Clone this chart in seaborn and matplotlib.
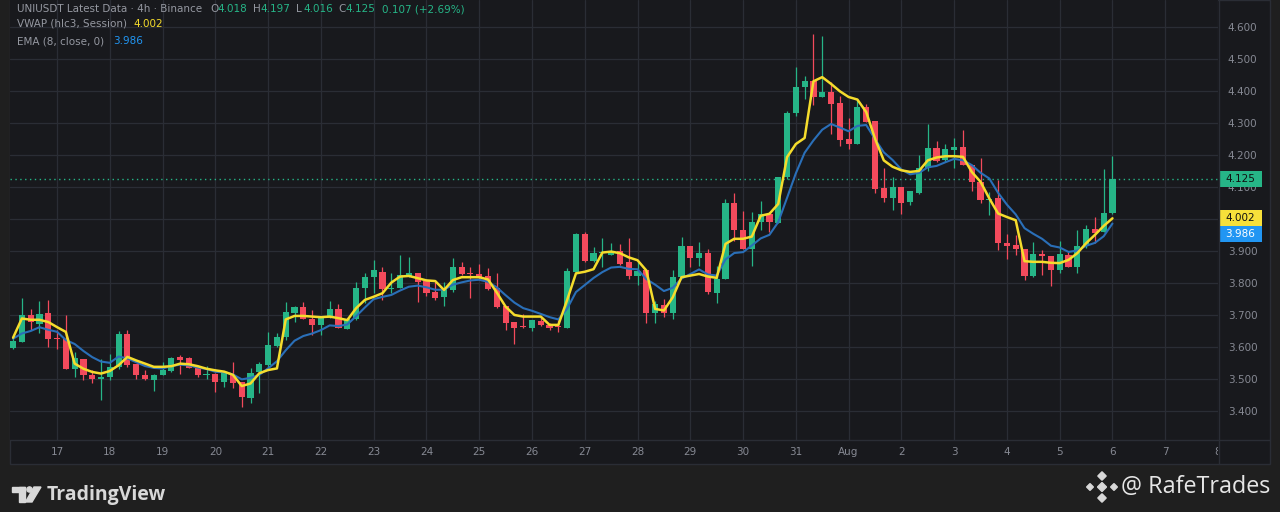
import numpy as np
import pandas as pd
import matplotlib
matplotlib.use('Agg')
import matplotlib.pyplot as plt
import matplotlib.patches as mpatches
from matplotlib.transforms import Bbox, TransformedBbox, blended_transform_factory
import seaborn as sns

# 4h candles (first candle = 16 Jul, 04:00)
opens = [3.598, 3.615, 3.699, 3.673, 3.705, 3.628, 3.626, 3.532, 3.563, 3.514,
         3.501, 3.506, 3.537, 3.639, 3.548, 3.514, 3.496, 3.511, 3.525, 3.569,
         3.566, 3.540, 3.514, 3.517, 3.492, 3.512, 3.492, 3.440, 3.521, 3.543,
         3.603, 3.630, 3.707, 3.724, 3.686, 3.669, 3.690, 3.719, 3.656, 3.688,
         3.783, 3.818, 3.835, 3.781, 3.785, 3.822, 3.830, 3.806, 3.771, 3.755,
         3.778, 3.849, 3.832, 3.827, 3.822, 3.785, 3.728, 3.679, 3.664, 3.658,
         3.682, 3.669, 3.665, 3.658, 3.835, 3.953, 3.870, 3.893, 3.888, 3.901,
         3.864, 3.822, 3.839, 3.705, 3.732, 3.705, 3.818, 3.917, 3.878, 3.893,
         3.768, 3.812, 4.049, 3.966, 3.906, 3.990, 4.016, 3.986, 4.130, 4.330,
         4.411, 4.432, 4.380, 4.396, 4.361, 4.250, 4.233, 4.350, 4.305, 4.098,
         4.064, 4.100, 4.052, 4.082, 4.160, 4.222, 4.183, 4.215, 4.225, 4.170,
         4.116, 4.060, 4.064, 3.926, 3.920, 3.907, 3.821, 3.890, 3.884, 3.841,
         3.888, 3.851, 3.914, 3.968, 3.960, 4.018]
highs = [3.630, 3.754, 3.720, 3.743, 3.746, 3.652, 3.700, 3.585, 3.563, 3.527,
         3.564, 3.577, 3.649, 3.654, 3.548, 3.527, 3.517, 3.553, 3.569, 3.574,
         3.569, 3.540, 3.540, 3.518, 3.518, 3.554, 3.492, 3.533, 3.554, 3.648,
         3.643, 3.739, 3.728, 3.742, 3.716, 3.695, 3.744, 3.733, 3.690, 3.802,
         3.830, 3.872, 3.851, 3.832, 3.887, 3.880, 3.830, 3.806, 3.802, 3.804,
         3.877, 3.867, 3.851, 3.858, 3.846, 3.832, 3.728, 3.679, 3.702, 3.684,
         3.695, 3.674, 3.684, 3.846, 3.955, 3.960, 3.911, 3.940, 3.924, 3.922,
         3.940, 3.867, 3.839, 3.743, 3.750, 3.841, 3.945, 3.917, 3.927, 3.906,
         3.854, 4.062, 4.080, 4.026, 4.021, 4.057, 4.021, 4.130, 4.336, 4.476,
         4.448, 4.578, 4.570, 4.427, 4.385, 4.314, 4.376, 4.358, 4.305, 4.160,
         4.131, 4.100, 4.086, 4.199, 4.298, 4.244, 4.235, 4.254, 4.277, 4.170,
         4.189, 4.084, 4.121, 3.952, 3.949, 3.907, 3.928, 3.903, 3.884, 3.932,
         3.898, 3.964, 3.981, 4.007, 4.155, 4.197]
lows = [3.595, 3.614, 3.654, 3.644, 3.600, 3.595, 3.532, 3.506, 3.496, 3.487,
        3.435, 3.496, 3.532, 3.537, 3.501, 3.496, 3.462, 3.511, 3.522, 3.515,
        3.535, 3.506, 3.499, 3.459, 3.476, 3.471, 3.414, 3.424, 3.455, 3.539,
        3.601, 3.622, 3.679, 3.686, 3.637, 3.637, 3.689, 3.658, 3.656, 3.685,
        3.736, 3.768, 3.747, 3.768, 3.783, 3.820, 3.740, 3.760, 3.747, 3.728,
        3.773, 3.825, 3.752, 3.809, 3.778, 3.721, 3.653, 3.609, 3.658, 3.650,
        3.666, 3.653, 3.648, 3.658, 3.835, 3.864, 3.864, 3.851, 3.888, 3.856,
        3.811, 3.794, 3.674, 3.674, 3.695, 3.688, 3.818, 3.849, 3.854, 3.766,
        3.736, 3.812, 3.932, 3.906, 3.854, 3.964, 3.958, 3.986, 4.125, 4.323,
        4.375, 4.357, 4.380, 4.266, 4.229, 4.220, 4.233, 4.303, 4.081, 4.053,
        4.029, 4.017, 4.043, 4.079, 4.150, 4.178, 4.178, 4.160, 4.168, 4.088,
        4.050, 4.011, 3.902, 3.876, 3.886, 3.808, 3.819, 3.826, 3.789, 3.830,
        3.849, 3.830, 3.908, 3.924, 3.960, 4.016]
closes = [3.618, 3.699, 3.677, 3.703, 3.626, 3.625, 3.532, 3.566, 3.511, 3.501,
          3.506, 3.537, 3.639, 3.543, 3.511, 3.499, 3.514, 3.527, 3.566, 3.560,
          3.535, 3.511, 3.517, 3.491, 3.518, 3.489, 3.445, 3.520, 3.546, 3.605,
          3.632, 3.710, 3.724, 3.686, 3.669, 3.690, 3.719, 3.658, 3.688, 3.785,
          3.820, 3.841, 3.781, 3.783, 3.825, 3.830, 3.804, 3.768, 3.752, 3.780,
          3.849, 3.827, 3.829, 3.818, 3.780, 3.726, 3.676, 3.658, 3.661, 3.684,
          3.669, 3.658, 3.661, 3.838, 3.953, 3.870, 3.893, 3.898, 3.898, 3.858,
          3.822, 3.838, 3.705, 3.734, 3.705, 3.820, 3.914, 3.878, 3.893, 3.771,
          3.812, 4.049, 3.964, 3.906, 3.990, 4.016, 3.990, 4.130, 4.330, 4.411,
          4.432, 4.380, 4.396, 4.359, 4.247, 4.233, 4.350, 4.303, 4.095, 4.064,
          4.100, 4.051, 4.086, 4.160, 4.222, 4.181, 4.217, 4.225, 4.168, 4.116,
          4.060, 4.063, 3.925, 3.916, 3.907, 3.821, 3.892, 3.883, 3.841, 3.891,
          3.849, 3.916, 3.968, 3.957, 4.018, 4.125]

# VWAP (hlc3, session) line
vwap = [3.629, 3.689, 3.685, 3.685, 3.678, 3.662, 3.647, 3.548, 3.532, 3.522,
        3.517, 3.525, 3.543, 3.569, 3.558, 3.548, 3.538, 3.538, 3.540, 3.548,
        3.546, 3.540, 3.532, 3.527, 3.523, 3.513, 3.478, 3.486, 3.518, 3.528,
        3.533, 3.686, 3.697, 3.697, 3.695, 3.693, 3.695, 3.690, 3.684, 3.721,
        3.747, 3.757, 3.768, 3.801, 3.820, 3.822, 3.815, 3.808, 3.806, 3.778,
        3.809, 3.818, 3.818, 3.818, 3.811, 3.770, 3.726, 3.700, 3.695, 3.695,
        3.695, 3.669, 3.669, 3.747, 3.830, 3.835, 3.843, 3.895, 3.898, 3.893,
        3.880, 3.871, 3.839, 3.719, 3.714, 3.755, 3.818, 3.823, 3.828, 3.820,
        3.816, 3.922, 3.938, 3.938, 3.945, 4.010, 4.016, 4.047, 4.193, 4.234,
        4.253, 4.430, 4.443, 4.422, 4.399, 4.381, 4.373, 4.334, 4.251, 4.183,
        4.163, 4.152, 4.147, 4.150, 4.183, 4.192, 4.196, 4.196, 4.194, 4.147,
        4.116, 4.064, 4.017, 4.006, 3.996, 3.868, 3.866, 3.866, 3.863, 3.862,
        3.872, 3.893, 3.924, 3.950, 3.978, 4.002]

ema_seed = 3.626  # blue line level at the first candle
day_labels = ['17', '18', '19', '20', '21', '22', '23', '24', '25', '26', '27',
              '28', '29', '30', '31', 'Aug', '2', '3', '4', '5', '6', '7', '8']
price_ticks = [3.4, 3.5, 3.6, 3.7, 3.8, 3.9, 4.0, 4.1, 4.2, 4.3, 4.4, 4.5, 4.6]

last_close, vwap_last, ema_last = 4.125, 4.002, 3.986

df = pd.DataFrame({'open': opens, 'high': highs, 'low': lows, 'close': closes, 'vwap': vwap})
df['t'] = np.arange(len(df))
ema_input = pd.Series([ema_seed] + closes[1:])
df['ema'] = ema_input.ewm(span=8, adjust=False).mean()
df['up'] = df['close'] >= df['open']

GREEN = '#26b587'
RED = '#f34a5c'
YELLOW = '#f5dc2c'
BLUE = '#2a6fb8'
PANEL = '#18191d'
OUTER = '#1f1f1f'
GRID = '#2a2d35'
TXT = '#868993'

sns.set_style('darkgrid', rc={'axes.facecolor': PANEL, 'grid.color': GRID,
                              'figure.facecolor': OUTER})
plt.rcParams['font.family'] = ['DejaVu Sans']

W, H = 1280, 512
fig = plt.figure(figsize=(12.8, 5.12), dpi=100)
fig.patch.set_facecolor(OUTER)

# background layer (panel)
bg = fig.add_axes([0, 0, 1, 1], zorder=0)
bg.set_xlim(0, W)
bg.set_ylim(H, 0)
bg.axis('off')
bg.add_patch(mpatches.Rectangle((10, 0), 1260, 464, facecolor=PANEL,
                                edgecolor=GRID, lw=1))

ax = fig.add_axes([10 / W, (H - 440) / H, 1208 / W, 440 / H], zorder=1)
ax.set_facecolor(PANEL)

cols = np.where(df['up'], GREEN, RED)
ax.vlines(df['t'], df['low'], df['high'], colors=cols, lw=0.9, zorder=3)
body_bottom = df[['open', 'close']].min(axis=1)
body_h = (df['close'] - df['open']).abs().clip(lower=0.0025)
ax.bar(df['t'], body_h, bottom=body_bottom, width=0.7, color=cols,
       linewidth=0, zorder=4)

sns.lineplot(data=df, x='t', y='ema', color=BLUE, lw=1.5, ax=ax, zorder=5)
sns.lineplot(data=df, x='t', y='vwap', color=YELLOW, lw=1.8, ax=ax, zorder=6)
ax.axhline(last_close, color=GREEN, ls=(0, (1, 2.5)), lw=1.0, zorder=2)

ax.set_xlim(-0.35, 137)
ax.set_ylim(3.3094, 4.684)
ax.set_xticks([5 + 6 * k for k in range(len(day_labels))])
ax.set_xticklabels(day_labels)
ax.set_yticks(price_ticks)
# the 4.000 label sits under the VWAP tag in the reference, so it is left blank
ax.set_yticklabels(['' if abs(v - vwap_last) < 0.01 else f'{v:.3f}' for v in price_ticks])
ax.yaxis.tick_right()
ax.tick_params(axis='y', length=0, pad=7, labelsize=7.5, colors=TXT)
ax.tick_params(axis='x', length=0, pad=5, labelsize=7.5, colors=TXT)
ax.set_xlabel('')
ax.set_ylabel('')
ax.grid(True, color=GRID, lw=0.9)
for s in ax.spines.values():
    s.set_visible(False)

clip = TransformedBbox(Bbox([[10 / W, 0], [1218 / W, 1]]), fig.transFigure)
for lbl in ax.get_xticklabels():
    lbl.set_clip_box(clip)
    lbl.set_clip_on(True)

# overlay layer: separators, legend, price tags, watermarks
ov = fig.add_axes([0, 0, 1, 1], zorder=5)
ov.set_xlim(0, W)
ov.set_ylim(H, 0)
ov.axis('off')
ov.patch.set_alpha(0)
ov.plot([10, 1270], [440, 440], color=GRID, lw=1)
ov.plot([1218.5, 1218.5], [0, 464], color=GRID, lw=1)

LEG = '#9598a1'
fs = 7.5
ov.text(17, 9, 'UNIUSDT Latest Data · 4h · Binance', color=LEG, fontsize=fs, va='center')
for x0, key, val in [(210, 'O', '4.018'), (253, 'H', '4.197'),
                     (296, 'L', '4.016'), (338, 'C', '4.125')]:
    ov.text(x0, 9, key, color=LEG, fontsize=fs, va='center')
    ov.text(x0 + 7, 9, val, color=GREEN, fontsize=fs, va='center')
ov.text(382, 9, '0.107 (+2.69%)', color=GREEN, fontsize=fs, va='center')
ov.text(17, 24, 'VWAP (hlc3, Session)', color=LEG, fontsize=fs, va='center')
ov.text(133, 24, f'{vwap_last:.3f}', color=YELLOW, fontsize=fs, va='center')
ov.text(17, 41, 'EMA (8, close, 0)', color=LEG, fontsize=fs, va='center')
ov.text(113, 41, f'{ema_last:.3f}', color='#2196f3', fontsize=fs, va='center')

# right-axis price tags, placed from the data scale
tr = blended_transform_factory(ax.transAxes, ax.transData)
box_h = 16 / 320  # tag height in price units
tags = [(last_close, last_close, GREEN, '#111111'),
        (vwap_last, vwap_last, '#f7e03a', '#111111'),
        (ema_last, vwap_last - box_h, '#2196f3', 'white')]
for val, ypos, fc, tc in tags:
    ax.add_patch(mpatches.Rectangle((1.0005, ypos - box_h / 2), 43 / 1208, box_h,
                                    transform=tr, facecolor=fc, edgecolor='none',
                                    clip_on=False, zorder=10))
    ax.text(1.0005 + 21.5 / 1208, ypos, f'{val:.3f}', transform=tr, color=tc,
            fontsize=7.5, ha='center', va='center', clip_on=False, zorder=11)

# TradingView watermark
WM = '#d8d8d8'
ov.add_patch(mpatches.Rectangle((12, 487), 13, 5, color=WM))
ov.add_patch(mpatches.Rectangle((19, 487), 6, 15, color=WM))
ov.add_patch(mpatches.Circle((29.5, 489.5), 2.6, color=WM))
ov.add_patch(mpatches.Polygon([(34, 487), (41, 487), (32, 502), (25.5, 502)], color=WM))
ov.text(47, 495, 'TradingView', color=WM, fontsize=14, fontweight='bold',
        family='Open Sans', va='center')

# Binance-style mark + handle
for cx, cy, r in [(1102, 487, 4.5), (1090, 487, 3.4), (1114, 487, 3.4),
                  (1102, 476, 4.2), (1102, 498, 4.2)]:
    ov.add_patch(mpatches.RegularPolygon((cx, cy), 4, radius=r, color=WM))
ov.text(1121, 487, '@ RafeTrades', color='#e6e6e6', fontsize=16.8,
        family='Open Sans', va='center')

fig.savefig('out.png', dpi=100, facecolor=OUTER)
